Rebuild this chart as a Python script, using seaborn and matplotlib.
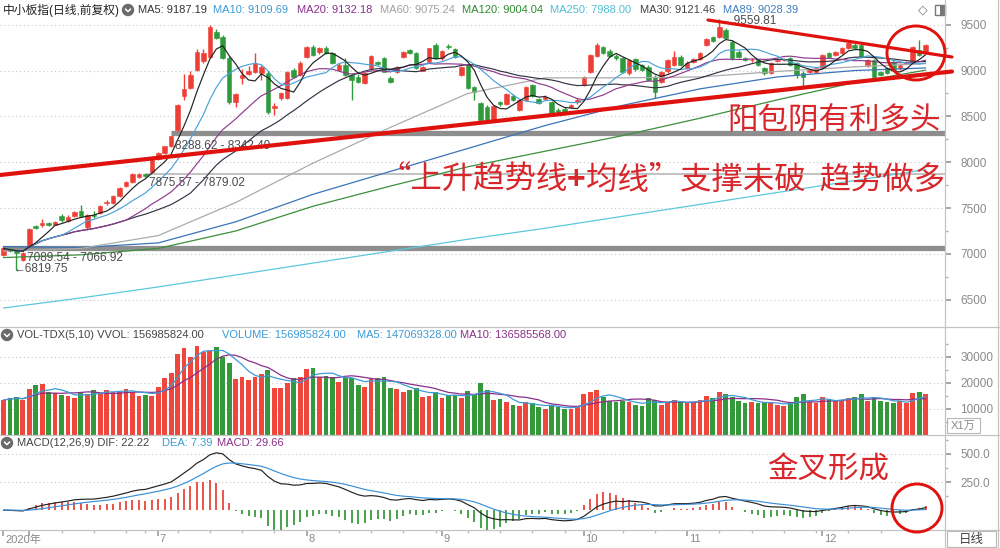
import numpy as np
import pandas as pd
import matplotlib
matplotlib.use("Agg")
import matplotlib.pyplot as plt
import matplotlib.transforms as mtrans
from matplotlib.patches import Ellipse, Rectangle
from matplotlib.lines import Line2D
import seaborn as sns

# ---------------- data ----------------
start_date = "2020-05-26"
end_date = "2020-12-23"
holidays = ["2020-06-25", "2020-06-26", "2020-10-01", "2020-10-02",
            "2020-10-05", "2020-10-06", "2020-10-07", "2020-10-08"]

opens = [6990, 7055, 7030, 6935, 7090, 7300, 7320, 7335, 7320, 7410, 7360, 7410,
         7470, 7290, 7425, 7450, 7555, 7555, 7630, 7740, 7785, 7840, 7868, 7890,
         8030, 8100, 8180, 8350, 8720, 8810, 9005, 9100, 9150, 9420, 9365, 9135,
         8655, 8915, 8960, 8985, 8970, 8970, 8590, 8700, 8700, 9005, 8950, 9150,
         9255, 9200, 9245, 9190, 9005, 9060, 8950, 8930, 8860, 9025, 9090, 9135,
         8920, 8985, 9150, 9225, 9190, 9000, 9090, 9280, 9135, 9270, 9235, 8950,
         9060, 8820, 8645, 8600, 8460, 8655, 8635, 8720, 8570, 8680, 8840, 8690,
         8690, 8655, 8570, 8580, 8600, 8660, 8840, 8985, 9160, 9255, 9210, 9160,
         9133, 8969, 9122, 9060, 9040, 8930, 8878, 8990, 9060, 9150, 9030, 9097,
         9122, 9278, 9362, 9369, 9442, 9315, 9205, 9133, 9110, 9115, 9024, 8969,
         9100, 9110, 9133, 9078, 8969, 8987, 8987, 9024, 9187, 9169, 9187, 9242,
         9278, 9278, 9060, 9115, 8987, 9024, 9096, 9024, 9078, 9078, 9224, 9205]
highs = [7090, 7075, 7045, 7020, 7280, 7320, 7380, 7350, 7360, 7440, 7420, 7470,
         7530, 7430, 7470, 7530, 7590, 7640, 7730, 7800, 7880, 7885, 7876, 8030,
         8110, 8180, 8289, 8640, 8960, 8990, 9230, 9240, 9500, 9450, 9390, 9160,
         8750, 9020, 9050, 9190, 9060, 8990, 8645, 8770, 9000, 9030, 9100, 9270,
         9280, 9260, 9270, 9200, 9080, 9140, 8970, 8960, 8980, 9170, 9100, 9150,
         8935, 9050, 9210, 9240, 9200, 9050, 9250, 9300, 9225, 9290, 9250, 9050,
         9070, 8830, 8660, 8620, 8620, 8670, 8750, 8740, 8690, 8830, 8850, 8700,
         8730, 8670, 8590, 8600, 8630, 8700, 8940, 9180, 9300, 9270, 9230, 9175,
         9150, 9125, 9140, 9075, 9060, 8950, 9000, 9125, 9210, 9165, 9100, 9135,
         9205, 9350, 9375, 9560, 9460, 9330, 9225, 9150, 9135, 9130, 9040, 9090,
         9130, 9135, 9145, 9090, 8990, 9015, 9035, 9180, 9200, 9215, 9255, 9310,
         9300, 9290, 9125, 9130, 9000, 9035, 9110, 9070, 9105, 9270, 9333, 9290]
lows = [6975, 7020, 6820, 6925, 7080, 7270, 7290, 7300, 7310, 7350, 7350, 7400,
        7400, 7260, 7390, 7440, 7530, 7545, 7620, 7730, 7775, 7830, 7840, 7879,
        8020, 8090, 8170, 8342, 8680, 8800, 8990, 9080, 9140, 9340, 9130, 8640,
        8605, 8850, 8950, 8970, 8900, 8530, 8515, 8680, 8690, 8920, 8940, 9140,
        9160, 9180, 9180, 9070, 8990, 8940, 8680, 8860, 8850, 9010, 9060, 8980,
        8860, 8975, 9140, 9180, 9020, 8990, 9080, 9130, 9120, 9240, 9140, 8940,
        8800, 8680, 8450, 8450, 8450, 8610, 8620, 8670, 8560, 8670, 8710, 8640,
        8680, 8530, 8540, 8540, 8590, 8640, 8830, 8975, 9150, 9180, 9150, 9120,
        8975, 8950, 9000, 8995, 8890, 8697, 8860, 8975, 9050, 9050, 9020, 9085,
        9110, 9265, 9310, 9355, 9340, 9120, 9140, 9100, 9095, 9050, 8950, 8960,
        9090, 9100, 9050, 8915, 8824, 8970, 8975, 9015, 9140, 9160, 9180, 9235,
        9230, 9140, 9040, 8900, 8940, 8960, 8995, 9010, 9070, 9070, 9160, 9190]
closes = [7060, 7030, 7015, 7010, 7270, 7280, 7340, 7320, 7345, 7365, 7400, 7460,
          7415, 7420, 7418, 7520, 7565, 7630, 7720, 7785, 7870, 7870, 7850, 8025,
          8100, 8175, 8285, 8620, 8800, 8950, 9200, 9190, 9478, 9350, 9135, 8655,
          8745, 8950, 9000, 9080, 9040, 8545, 8610, 8755, 8985, 8930, 9080, 9255,
          9170, 9245, 9190, 9080, 9060, 8950, 8895, 8875, 8970, 9160, 9075, 8985,
          8880, 9040, 9200, 9190, 9025, 9040, 9245, 9135, 9215, 9255, 9150, 9040,
          8810, 8765, 8460, 8460, 8610, 8635, 8740, 8680, 8680, 8820, 8720, 8650,
          8710, 8535, 8545, 8545, 8620, 8675, 8930, 9170, 9280, 9190, 9160, 9135,
          8987, 9115, 9013, 9010, 8900, 8770, 8987, 9110, 9150, 9060, 9080, 9122,
          9194, 9340, 9325, 9478, 9351, 9133, 9151, 9115, 9118, 9060, 8969, 9078,
          9115, 9122, 9060, 8951, 8933, 9005, 9024, 9169, 9151, 9205, 9242, 9296,
          9242, 9151, 9115, 8933, 8951, 8969, 9005, 9060, 9096, 9260, 9169, 9278]
volumes = [13300, 14200, 14600, 13300, 17600, 19100, 19500, 16300, 15900, 15300, 15000, 14200,
           16300, 15500, 17200, 15900, 17200, 16500, 16500, 17600, 16500, 15000, 15300, 15000,
           18500, 21900, 23600, 30900, 33500, 30000, 34100, 31900, 32200, 33700, 30000, 27400,
           21400, 22300, 21000, 22300, 23300, 24900, 18100, 18100, 19800, 21700, 22100, 25300,
           25800, 22300, 22700, 22300, 20400, 22300, 21700, 19100, 18500, 21900, 21700, 22300,
           18100, 17600, 16500, 17200, 17800, 14600, 15000, 16300, 14200, 15300, 15300, 14000,
           16800, 15500, 19700, 17200, 13300, 13700, 12500, 11500, 11000, 12500, 12000, 10500,
           10000, 11500, 10500, 10000, 10000, 11000, 15500, 16500, 17000, 14500, 13000, 12500,
           13000, 12500, 11500, 11000, 14000, 13500, 11500, 12500, 13500, 12500, 12000, 12500,
           13500, 15000, 14000, 16500, 15500, 14500, 13000, 12000, 12500, 12000, 12500, 12500,
           11500, 11000, 12000, 14500, 15500, 12500, 12000, 14500, 13500, 13000, 13500, 14000,
           14500, 15500, 13000, 14500, 13000, 12500, 12000, 13000, 12000, 16000, 16500, 15700]

# long moving averages (need history before the window): read at sample candles
ma_sample_idx = [0, 12, 24, 36, 48, 60, 72, 84, 96, 108, 120, 132, 143]
ma60_s = [7030, 7060, 7200, 7560, 7990, 8380, 8750, 8920, 8920, 8930, 8990, 9040, 9075]
ma89_s = [7080, 7070, 7120, 7350, 7650, 7900, 8150, 8400, 8620, 8800, 8930, 9000, 9028]
ma120_s = [6960, 6990, 7060, 7250, 7520, 7740, 7950, 8120, 8290, 8480, 8680, 8870, 9004]
ma250_s = [6410, 6520, 6640, 6770, 6900, 7030, 7160, 7280, 7410, 7540, 7670, 7800, 7920]

# price gaps marked by the software
gap_low = [8288.62, 7875.57, 7066.92]
gap_high = [8342.49, 7879.02, 7089.54]
gap_start = [26, 22, 0]
gap_labels = ["8288.62 - 8342.49", "7875.57 - 7879.02", "7089.54 - 7066.92"]

price_ticks = [6500, 7000, 7500, 8000, 8500, 9000, 9500]
vol_ticks = [10000, 20000, 30000]
macd_ticks = [250, 500]

header_main = [("MA5: 9187.19", "#333333"), ("MA10: 9109.69", "#3d9bd6"),
               ("MA20: 9132.18", "#8b2f8b"), ("MA60: 9075.24", "#a0a0a0"),
               ("MA120: 9004.04", "#2e8b2e"), ("MA250: 7988.00", "#4fbfd6"),
               ("MA30: 9121.46", "#444444"), ("MA89: 9028.39", "#3f7fc0")]
header_vol = [("VOL-TDX(5,10) VVOL: 156985824.00", "#444444"),
              ("VOLUME: 156985824.00", "#3d9bd6"),
              ("MA5: 147069328.00", "#3d9bd6"), ("MA10: 136585568.00", "#8b2f8b")]
header_macd = [("MACD(12,26,9) DIF: 22.22", "#444444"), ("DEA: 7.39", "#3d9bd6"),
               ("MACD: 29.66", "#8b2f8b")]

# ---------------- style ----------------
sns.set_theme(style="white")
plt.rcParams['font.family'] = ['Liberation Sans', 'Noto Sans CJK SC', 'DejaVu Sans']
plt.rcParams['axes.unicode_minus'] = False

RED = "#ee3f36"
GREEN = "#2f9a3c"
ANN = "#e0120e"
ANN_TXT = "#d8262b"

o = np.array(opens, float); h = np.array(highs, float)
l = np.array(lows, float); c = np.array(closes, float)
v = np.array(volumes, float)
n = len(c)
xi = np.arange(n)

dates = pd.bdate_range(start_date, end_date)
dates = dates[~dates.isin(pd.to_datetime(holidays))][:n]

cs = pd.Series(c)
ma5 = cs.rolling(5, min_periods=1).mean()
ma10 = cs.rolling(10, min_periods=1).mean()
ma20 = cs.rolling(20, min_periods=1).mean()
ma30 = cs.rolling(30, min_periods=1).mean()
vs = pd.Series(v)
vma5 = vs.rolling(5, min_periods=1).mean()
vma10 = vs.rolling(10, min_periods=1).mean()
dif = cs.ewm(span=12, adjust=False).mean() - cs.ewm(span=26, adjust=False).mean()
dea = dif.ewm(span=9, adjust=False).mean()
hist = 2 * (dif - dea)

W, H = 1000, 548
fig = plt.figure(figsize=(10, 5.48), dpi=100)
fig.patch.set_facecolor("white")


def fx(x):
    return x / W


def fy(y):
    return 1 - y / H


def add_ax(x0, y0, x1, y1):
    return fig.add_axes([x0 / W, 1 - y1 / H, (x1 - x0) / W, (y1 - y0) / H])


ax_p = add_ax(0, 0, 945, 327)
ax_v = add_ax(0, 327, 945, 434.7)
ax_m = add_ax(0, 434.7, 945, 530)
XL = (-0.54, 146.0)

for ax in (ax_p, ax_v, ax_m):
    ax.set_xlim(*XL)
    ax.set_facecolor("none")
    for sp in ax.spines.values():
        sp.set_visible(False)
    ax.yaxis.tick_right()
    ax.tick_params(axis='y', which='major', length=4, color='#9a9a9a', direction='out',
                   labelcolor='#8a8a8a', labelsize=8.5, pad=7)
    ax.tick_params(axis='y', which='minor', length=2.5, color='#b0b0b0', direction='out')
    ax.grid(axis='y', which='major', linestyle=(0, (1, 2.5)), color='#c8c8c8', lw=0.8)
    ax.grid(axis='x', visible=False)

# ---------------- price panel ----------------
ax_p.set_ylim(6203, 9769)
ax_p.set_yticks(price_ticks)
ax_p.set_yticks([t + 250 for t in price_ticks[:-1]], minor=True)
ax_p.set_xticks([])

up = c >= o
col = np.where(up, RED, GREEN)
ax_p.vlines(xi, l, h, colors=col, lw=1.0, zorder=3)
body_bot = np.minimum(o, c)
body_h = np.maximum(np.abs(c - o), 10)
ax_p.bar(xi, body_h, bottom=body_bot, width=0.7, color=col, edgecolor=col, lw=0.4, zorder=3)

for lo, hi, st in zip(gap_low, gap_high, gap_start):
    thick = hi - lo > 20
    mid = (lo + hi) / 2 if hi - lo > 40 else min(lo, hi)
    ax_p.hlines(mid, st, XL[1], colors='#8e8e8e' if thick else '#bdbdbd',
                lw=3.8 if thick else 1.3, zorder=2)

for vals, colr in [(ma250_s, "#5cc8dc"), (ma120_s, "#3b8f3b"),
                   (ma89_s, "#3b74b8"), (ma60_s, "#ababab")]:
    sns.lineplot(x=ma_sample_idx, y=vals, ax=ax_p, color=colr, linewidth=0.9,
                 legend=False, zorder=4)
for vals, colr in [(ma30, "#333344"), (ma20, "#8e3a8e"), (ma10, "#4aa3d8"), (ma5, "#222222")]:
    sns.lineplot(x=xi, y=vals.values, ax=ax_p, color=colr, linewidth=0.85,
                 legend=False, zorder=5)
ax_p.set_xlabel(""); ax_p.set_ylabel("")

# ---------------- volume panel ----------------
ax_v.set_ylim(0, 41420)
ax_v.set_yticks(vol_ticks)
ax_v.set_yticks([5000, 15000, 25000, 35000], minor=True)
ax_v.set_xticks([])
ax_v.bar(xi, v, width=0.74, color=np.where(up, "#f0463c", "#34993b"), lw=0, zorder=3)
sns.lineplot(x=xi, y=vma10.values, ax=ax_v, color="#8b2f8b", linewidth=0.9, legend=False, zorder=4)
sns.lineplot(x=xi, y=vma5.values, ax=ax_v, color="#3d9bd6", linewidth=0.9, legend=False, zorder=4)
ax_v.set_xlabel(""); ax_v.set_ylabel("")

# ---------------- MACD panel ----------------
ax_m.set_ylim(-178, 672)
ax_m.set_yticks(macd_ticks)
ax_m.set_yticks([125, 375, 625], minor=True)
ax_m.yaxis.set_major_formatter(matplotlib.ticker.FormatStrFormatter('%.1f'))
ax_m.vlines(xi, 0, hist.values, colors=np.where(hist.values >= 0, "#e8453a", "#3a9a3e"),
            lw=1.3, zorder=3)
sns.lineplot(x=xi, y=dif.values, ax=ax_m, color="#222222", linewidth=0.85, legend=False, zorder=4)
sns.lineplot(x=xi, y=dea.values, ax=ax_m, color="#3a8fd8", linewidth=0.85, legend=False, zorder=4)
ax_m.set_xlabel(""); ax_m.set_ylabel("")

month_first = [i for i in range(n) if i == 0 or dates[i].month != dates[i - 1].month]
week_first = [i for i in range(1, n) if (dates[i] - dates[i - 1]).days > 1 and dates[i].weekday() <= dates[i - 1].weekday()]
ax_m.set_xticks(month_first)
ax_m.set_xticks(week_first, minor=True)
ax_m.set_xticklabels([])
ax_m.tick_params(axis='x', which='major', length=4, color='#a0a0a0', direction='out', bottom=True)
ax_m.tick_params(axis='x', which='minor', length=2.5, color='#c0c0c0', direction='out', bottom=True)
trans = mtrans.blended_transform_factory(ax_m.transData, fig.transFigure)
last_lab = None
for i in month_first:
    if last_lab is not None and i - last_lab < 10:
        continue  # too close to the year label: the reference shows only "2020年"
    lab = "2020年" if i == 0 else str(dates[i].month)
    ax_m.text(i + 0.25, fy(539.5), lab, transform=trans, ha='left', va='center',
              fontsize=8, color='#8a8a8a', clip_on=False)
    last_lab = i

# ---------------- frame / separators ----------------
for yy in (327, 434.7, 530):
    fig.add_artist(Line2D([0, 1], [fy(yy)] * 2, transform=fig.transFigure, color='#c4c4c4', lw=0.9))
fig.add_artist(Line2D([fx(945)] * 2, [0, 1], transform=fig.transFigure, color='#c4c4c4', lw=0.9))
fig.add_artist(Line2D([fx(998)] * 2, [0, 1], transform=fig.transFigure, color='#c4c4c4', lw=0.9))

fig.add_artist(Rectangle((fx(947), fy(433)), 33 / W, 15 / H, transform=fig.transFigure,
                         fill=False, ec='#b8b8b8', lw=0.8))
fig.text(fx(963.5), fy(425.5), "X1万", ha='center', va='center', fontsize=8, color='#8a8a8a')
fig.add_artist(Rectangle((fx(947), fy(547)), 49 / W, 16 / H, transform=fig.transFigure,
                         fill=False, ec='#b8b8b8', lw=0.8))
fig.text(fx(971), fy(539.5), "日线", ha='center', va='center', fontsize=9, color='#444444')


# ---------------- headers ----------------
def icon(x, y):
    fig.add_artist(Ellipse((fx(x), fy(y)), 11 / W, 11 / H, transform=fig.transFigure,
                           color='#6a6a6a', zorder=6))
    fig.add_artist(Line2D([fx(x - 2.6), fx(x), fx(x + 2.6)], [fy(y - 1.0), fy(y + 1.6), fy(y - 1.0)],
                          transform=fig.transFigure, color='white', lw=1.1, zorder=7))


fig.text(fx(3), fy(10), "中小板指(日线,前复权)", ha='left', va='center', fontsize=8.5, color='#222222')
icon(128, 10)
hx = [138, 213, 297, 380, 462, 550, 640, 723]
for (t, colr), xx in zip(header_main, hx):
    fig.text(fx(xx), fy(10), t, ha='left', va='center', fontsize=8, color=colr)
fig.text(fx(923), fy(10), "◇", ha='center', va='center', fontsize=9, color='#777777',
         family='DejaVu Sans')
fig.add_artist(Rectangle((fx(935), fy(15)), 10 / W, 10 / H, transform=fig.transFigure,
                         fill=False, ec='#777777', lw=1.0))
fig.add_artist(Rectangle((fx(940), fy(15)), 5 / W, 10 / H, transform=fig.transFigure,
                         color='#777777', lw=0))

icon(7, 335)
for (t, colr), xx in zip(header_vol, [17, 222, 357, 460]):
    fig.text(fx(xx), fy(335), t, ha='left', va='center', fontsize=8, color=colr)
icon(7, 443)
for (t, colr), xx in zip(header_macd, [17, 162, 217]):
    fig.text(fx(xx), fy(443), t, ha='left', va='center', fontsize=8, color=colr)

# gap / extreme labels
for lab, (px, py) in zip(gap_labels, [(175, 146), (149, 183), (27, 258)]):
    fig.text(fx(px), fy(py), lab, ha='left', va='center', fontsize=8.5, color='#4a4a4a')
fig.text(fx(14), fy(269), "←6819.75", ha='left', va='center', fontsize=8.5, color='#4a4a4a',
         family=['Liberation Sans', 'DejaVu Sans'])
fig.text(fx(723), fy(21), "←9559.81", ha='left', va='center', fontsize=8.5, color='#4a4a4a',
         family=['Liberation Sans', 'DejaVu Sans'])

# ---------------- hand-drawn red annotations ----------------
fig.add_artist(Line2D([fx(0), fx(952)], [fy(175), fy(71.5)], transform=fig.transFigure,
                      color=ANN, lw=3.0, solid_capstyle='round', zorder=20))
fig.add_artist(Line2D([fx(708), fx(952)], [fy(20), fy(57)], transform=fig.transFigure,
                      color=ANN, lw=2.3, solid_capstyle='round', zorder=20))
fig.add_artist(Ellipse((fx(916), fy(53)), 58 / W, 54 / H, transform=fig.transFigure,
                       fill=False, ec=ANN, lw=2.1, zorder=20))
fig.add_artist(Ellipse((fx(917), fy(508)), 50 / W, 48 / H, transform=fig.transFigure,
                       fill=False, ec=ANN, lw=2.1, zorder=20))

cjk = ['Noto Sans CJK SC', 'DejaVu Sans']
fig.text(fx(727), fy(121), "阳包阴有利多头", ha='left', va='center', fontsize=22,
         color=ANN_TXT, family=cjk, weight='light', zorder=21)
fig.text(fx(767), fy(470), "金叉形成", ha='left', va='center', fontsize=22,
         color=ANN_TXT, family=cjk, weight='light', zorder=21)

# sentence with a bold "+" placed piece by piece
renderer = fig.canvas.get_renderer()
pieces = [("“上升趋势线", 'light'), ("+", 'bold'), ("均线”支撑未破  趋势做多", 'light')]
cur = 379.0
for txt, wgt in pieces:
    t = fig.text(fx(cur), fy(180), txt, ha='left', va='center', fontsize=22.6,
                 color=ANN_TXT, family=cjk, weight=wgt, zorder=21)
    bb = t.get_window_extent(renderer=renderer)
    cur += bb.width

fig.savefig("out.png", dpi=100, facecolor="white")
